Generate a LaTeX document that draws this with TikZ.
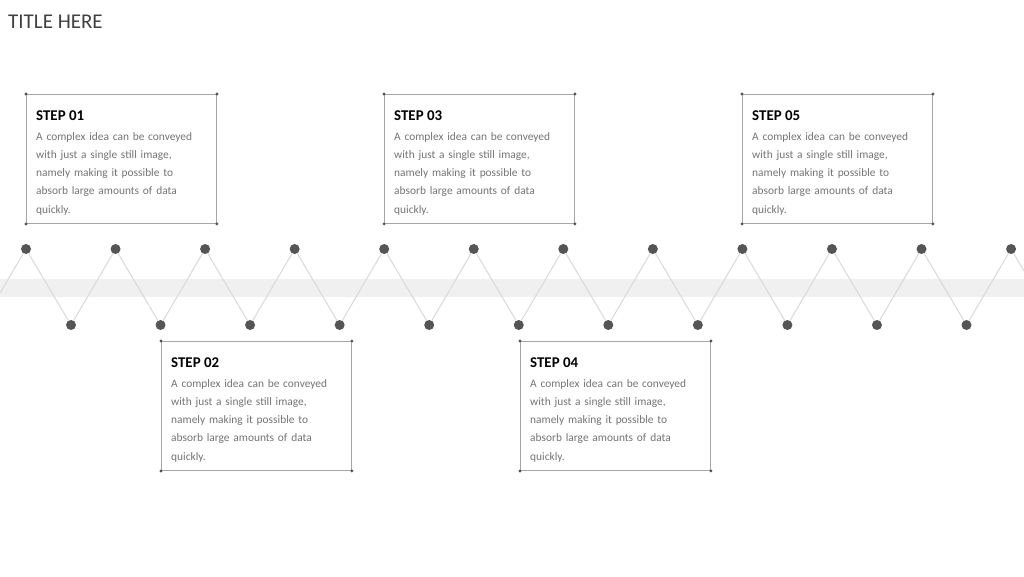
\documentclass[tikz,border=0pt]{standalone}
\usepackage{fontspec}
\setmainfont{Carlito}
\definecolor{dotgray}{HTML}{555555}
\definecolor{boxgray}{HTML}{A6A6A6}
\definecolor{linegray}{HTML}{D9D9D9}
\definecolor{bandgray}{HTML}{F0F0F0}
\definecolor{textgray}{HTML}{747474}
\begin{document}
\begin{tikzpicture}[x=1pt, y=-1pt,
    dot/.style={circle, fill=dotgray, inner sep=0pt, minimum size=10pt},
    corner/.style={circle, fill=dotgray, inner sep=0pt, minimum size=3.2pt},
    zig/.style={draw=linegray, line width=1pt},
    stepbox/.style={draw=boxgray, line width=0.9pt, minimum width=190pt, minimum height=129pt, inner sep=0pt},
    head/.style={font=\bfseries\fontsize{14.9}{17}\selectfont, text=black, inner sep=0pt},
    body/.style={font=\fontsize{11.4}{18.3}\selectfont, text=textgray, inner sep=0pt, text width=178pt, align=left}]
    \useasboundingbox (0,0) rectangle (1024,576);
    \fill[white] (0,0) rectangle (1024,576);
    % band behind the zigzag
    \fill[bandgray] (0,279) rectangle (1024,297);
    \node[font=\fontsize{21}{24}\selectfont, text=black!75, anchor=base west, inner sep=0pt] (title) at (8,28) {TITLE HERE};
    % dots
    \foreach \i in {0,...,11}
        \node[dot] (t\i) at (26+89.55*\i, 249) {};
    \foreach \i in {0,...,10}
        \node[dot] (b\i) at (71+89.55*\i, 325) {};
    \coordinate (l) at (0, 293);
    \coordinate (r) at (1024, 271);
    \draw[zig] (l) -- (t0);
    \foreach \i in {0,...,10} {
        \pgfmathtruncatemacro\j{\i+1}
        \draw[zig] (t\i) -- (b\i);
        \draw[zig] (b\i) -- (t\j);
    }
    \draw[zig] (t11) -- (r);
    % step cards
    \foreach \x/\y/\n in {26/94/01, 161/341/02, 384/94/03, 520/341/04, 742/94/05} {
        \node[stepbox, anchor=north west] (s\n) at (\x, \y) {};
        \foreach \c in {north west, north east, south west, south east}
            \node[corner] at (s\n.\c) {};
        \node[head, anchor=base west] (h\n) at (\x+10, \y+26) {STEP \n};
        \node[body, anchor=base west] (d\n) at (\x+10, \y+46) {A complex idea can be conveyed\\ with just a single still image,\\ namely making it possible to\\ absorb large amounts of data\\ quickly.};
    }
\end{tikzpicture}
\end{document}
